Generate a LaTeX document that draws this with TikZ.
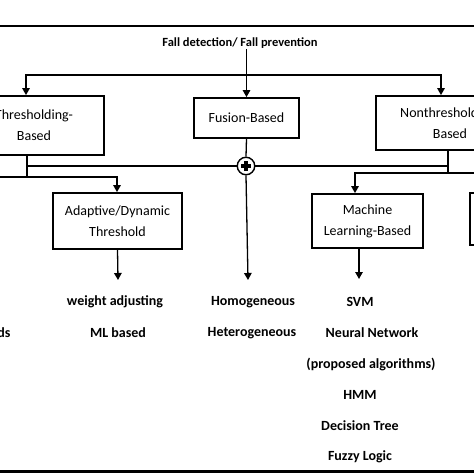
\documentclass[tikz,border=0pt]{standalone}
\usepackage{fontspec}
\setmainfont{Carlito}
\usetikzlibrary{arrows.meta}

\begin{document}
\begin{tikzpicture}
	 [x=1pt,y=-1pt,line width=1.3pt,>={Triangle[length=7pt,width=7.5pt]},
	  every node/.style={inner sep=0pt,font=\fontsize{14}{21}\selectfont},
	  box/.style={draw,line width=1.8pt,align=center},
	  item/.style={font=\fontsize{14}{21}\selectfont\bfseries}]

	\useasboundingbox (0,0) rectangle (474,474);
	\clip (0,0) rectangle (474,474);

	\draw[line width=2pt] (0,25.5) -- (474,25.5);
	\draw[line width=3pt] (0,471) -- (474,471);

	  \node[font=\fontsize{12.5}{15}\selectfont\bfseries] (fall) at (240,43) {Fall detection/ Fall prevention};

	  \node[box,minimum width=140,minimum height=59] (thr) at (34,125.5) {Thresholding-\\Based};
	  \node[box,minimum width=105,minimum height=40] (fus) at (246.5,118) {Fusion-Based};
	  \node[box,minimum width=148,minimum height=54] (non) at (450,123) {Nonthresholding-\\Based};
	  \node[box,minimum width=129,minimum height=56] (ada) at (117.5,221) {Adaptive/Dynamic\\Threshold};
	  \node[box,minimum width=111,minimum height=54] (ml) at (367.5,221) {Machine\\Learning-Based};
	  \node[box,minimum width=120,minimum height=52] (rbox) at (530,219) {};

	  \node[draw,circle,minimum size=17.5,line width=1.4pt] (jn) at (246,166) {};
	\draw[line width=3.8pt] ([xshift=-5pt]jn.center) -- ([xshift=5pt]jn.center);
	\draw[line width=3.8pt] ([yshift=-5pt]jn.center) -- ([yshift=5pt]jn.center);

	  \coordinate (tl) at (26,75);
	  \coordinate (tr) at (441,75);
	  \coordinate (lb) at (27,177);
	  \coordinate (le) at (-10,177);
	  \coordinate (la) at (117,177);
	  \coordinate (rb) at (448,173);
	  \coordinate (re) at (484,173);
	  \coordinate (ra) at (355,173);
	  \coordinate (je) at (248,280);
	  \coordinate (ae) at (118,280);
	  \coordinate (me) at (359,279);

	\draw[->] (fall.south -| fus.north) -- (fus.north);
	\draw[<->] (tl |- thr.north) -- (tl) -- (tr) -- (tr |- non.north);

	\draw (lb |- thr.south) -- (lb);
	\draw (lb |- jn) -- (jn.west);
	\draw[->] (le) -- (la) -- (la |- ada.north);

	\draw (rb |- non.south) -- (rb);
	\draw (jn.east) -- (rb |- jn);
	\draw[->] (re) -- (ra) -- (ra |- ml.north);

	\draw (fus.south) -- (jn.north);
	\foreach \from/\to in {jn.south/je,ada.south/ae,ml.south -| me/me}
    \draw[->] (\from) -- (\to);

	  \node[item,anchor=east] (ds) at (11,333) {ds};
	  \node[item] (w1) at (115,302) {weight adjusting};
	  \node[item] (w2) at (118,333) {ML based};
	  \node[item] (h1) at (253,302) {Homogeneous};
	  \node[item] (h2) at (252,333) {Heterogeneous};
	  \node[item] (s1) at (360,302) {SVM};
	  \node[item] (s2) at (372,333) {Neural Network};
	  \node[item] (s3) at (371,364) {(proposed algorithms)};
	  \node[item] (s4) at (360,395) {HMM};
	  \node[item] (s5) at (360,426) {Decision Tree};
	  \node[item] (s6) at (360,457) {Fuzzy Logic};

\end{tikzpicture}
\end{document}
